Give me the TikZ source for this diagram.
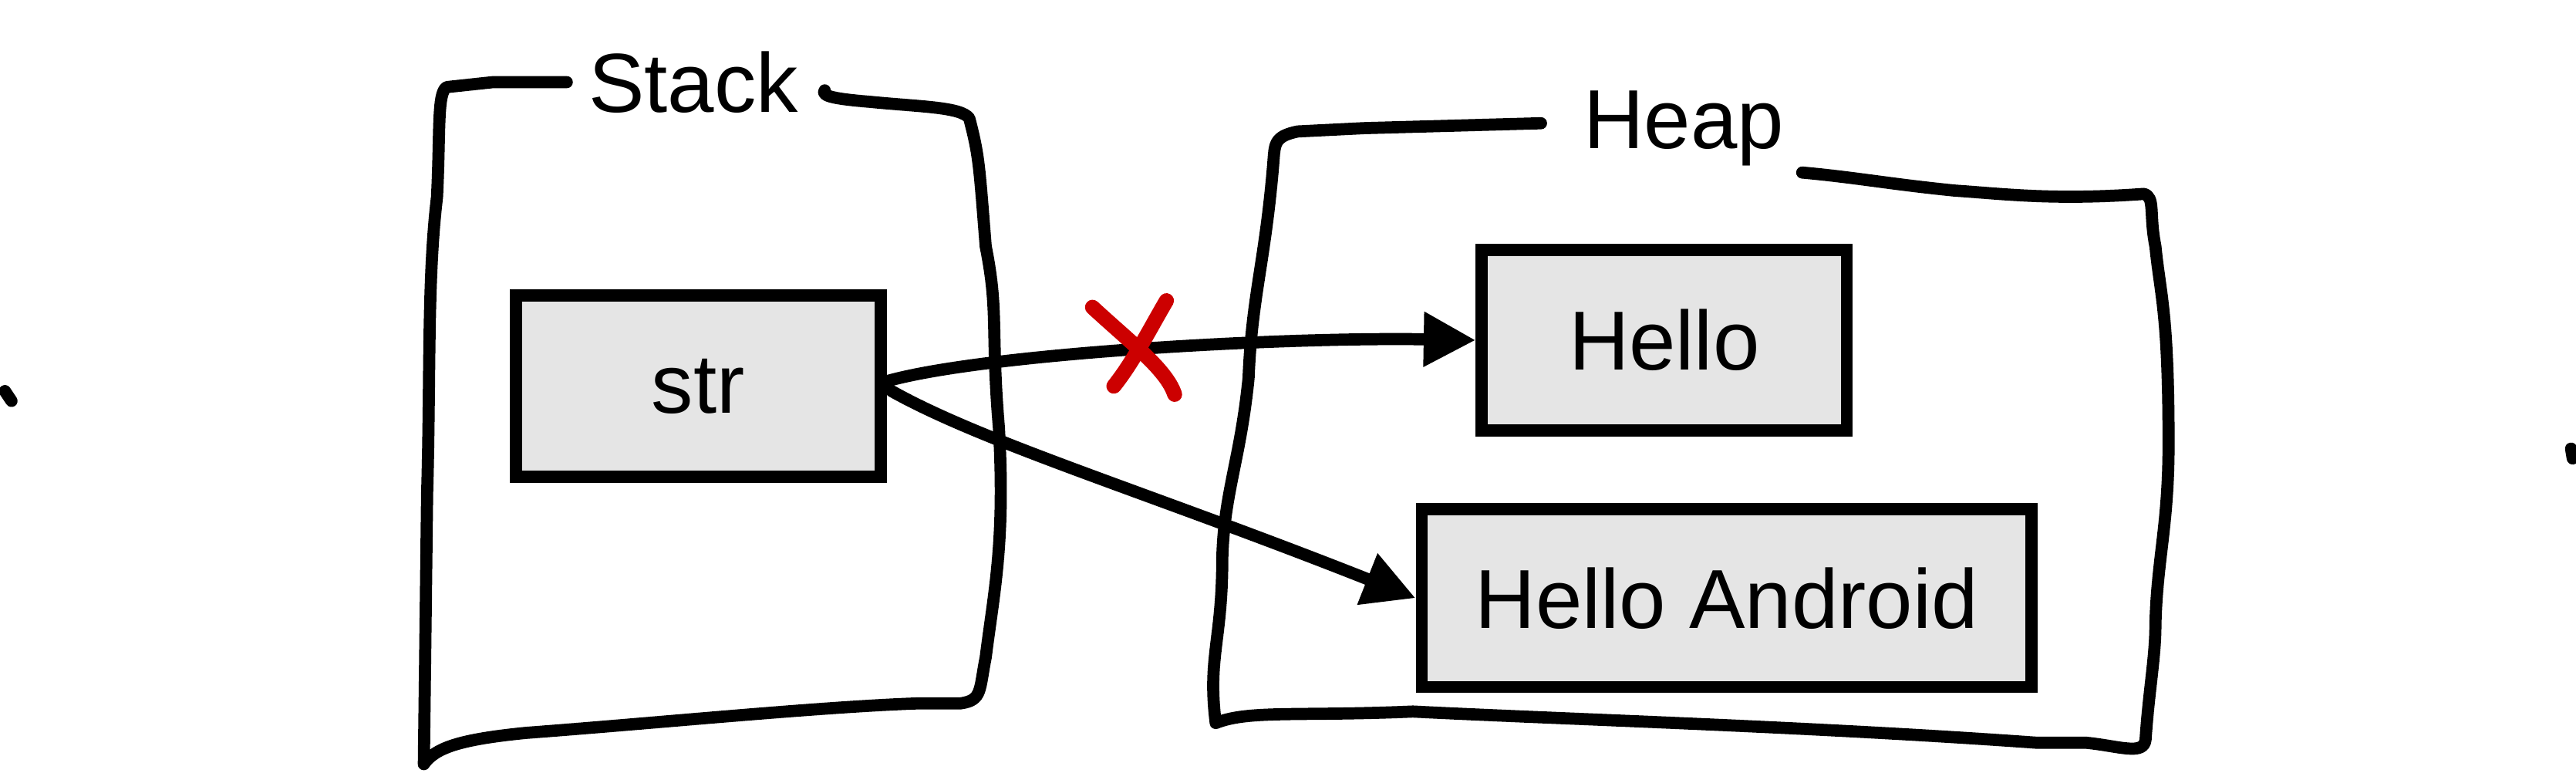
\documentclass[tikz,border=0pt]{standalone}
\usepackage{fontspec}
\setmainfont{Liberation Sans}
\usetikzlibrary{arrows.meta}
\begin{document}
\begin{tikzpicture}[x=0.01cm,y=-0.01cm,
  ink/.style={line width=2.1pt,line cap=round,line join=round},
  box/.style={draw,line width=2.1pt,fill=gray!20,minimum width=2.22cm,minimum height=1.1cm,font=\fontsize{14.5}{17}\selectfont},
  lbl/.style={font=\fontsize{14.5}{17}\selectfont},
  arr/.style={ink,-{Triangle[length=9pt,width=9pt]}}]
\useasboundingbox (0,0) rectangle (1568,470);
% stack outline
\draw[ink] (345,50) -- (300,50) -- (272,53) .. controls (266,56) and (268,80) .. (266,120) .. controls (260,170) and (262,230) .. (260,300) -- (258,465) .. controls (265,455) and (280,450) .. (320,446) .. controls (400,440) and (500,430) .. (560,428) -- (585,428) .. controls (598,426) and (596,420) .. (600,400) .. controls (605,360) and (612,330) .. (608,260) .. controls (603,200) and (608,190) .. (600,150) .. controls (596,100) and (596,95) .. (590,72) .. controls (585,65) and (560,65) .. (530,62) .. controls (505,60) and (500,58) .. (502,55);
\node[lbl] (stack) at (422,50) {Stack};
% heap outline
\draw[ink] (938,75) -- (830,78) -- (790,80) .. controls (775,83) and (776,88) .. (775,100) .. controls (770,160) and (762,180) .. (760,230) .. controls (755,280) and (745,300) .. (744,340) .. controls (744,390) and (735,400) .. (740,440) .. controls (760,432) and (790,436) .. (860,433) .. controls (960,438) and (1100,442) .. (1240,452) -- (1270,452) .. controls (1290,454) and (1305,460) .. (1306,450) .. controls (1308,420) and (1312,400) .. (1312,380) .. controls (1313,340) and (1320,320) .. (1320,270) .. controls (1320,190) and (1315,180) .. (1312,150) .. controls (1308,130) and (1312,120) .. (1305,118) .. controls (1250,122) and (1220,118) .. (1190,116) .. controls (1150,112) and (1130,108) .. (1097,105);
\node[lbl] (heap) at (1025,78) {Heap};
% boxes
\node[box] (str) at (425,235) {str};
\node[box] (hello) at (1013,207) {Hello};
\node[box,minimum width=3.71cm,minimum height=1.08cm] (ha) at (1051,364) {Hello Android};
% arrows
\draw[arr] (str.east) ++(0,-3) .. controls (600,215) and (780,205) .. (hello.west);
\draw[arr] (str.east) ++(3,3) .. controls (600,270) and (700,300) .. (ha.west);
% red X
\draw[line width=2.6pt,red!80!black,line cap=round] (665,187) .. controls (690,210) and (710,225) .. (715,240);
\draw[line width=2.6pt,red!80!black,line cap=round] (710,183) .. controls (700,200) and (690,220) .. (678,235);
% ticks
\draw[ink] (3,238) -- (7,244);
\draw[ink] (1565,273) -- (1566,279);
\end{tikzpicture}
\end{document}
